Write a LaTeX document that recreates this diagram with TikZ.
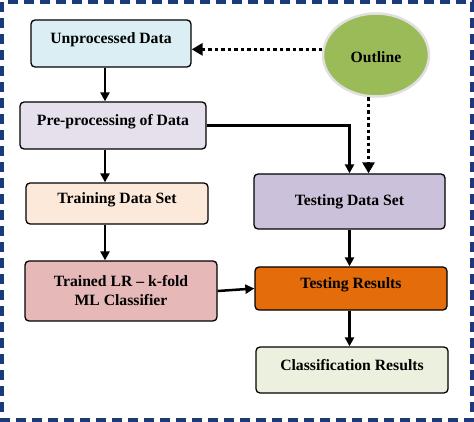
\documentclass[tikz,border=0pt]{standalone}
\usepackage{fontspec}
\setmainfont{Liberation Serif}
\usetikzlibrary{arrows.meta,shapes.geometric}

\definecolor{frameblue}{HTML}{1B3A7A}
\definecolor{upblue}{HTML}{DAEEF3}
\definecolor{prelilac}{HTML}{E5E0EC}
\definecolor{trainpeach}{HTML}{FDE9D9}
\definecolor{testlilac}{HTML}{CCC1DA}
\definecolor{trainedrose}{HTML}{E6B9B8}
\definecolor{resorange}{HTML}{E46C0A}
\definecolor{clsgreen}{HTML}{EBF1DE}
\definecolor{outlinegreen}{HTML}{9BBB59}

\begin{document}
\begin{tikzpicture}[x=1pt, y=-1pt,
    box/.style={draw, line width=1.3pt, rounded corners=4pt, align=center, inner sep=0pt,
        font=\bfseries\fontsize{15.7}{19}\selectfont, text height=8pt, text depth=8pt},
    arr/.style={line width=2.5pt, -{Triangle[length=9pt,width=9pt]}},
    dotarr/.style={line width=3.5pt, dash pattern=on 3.5pt off 3pt, -{Triangle[length=11pt,width=12pt]}}]
    \useasboundingbox (0,0) rectangle (474,422);
    % dashed frame
    \draw[frameblue, line width=4.5pt, dash pattern=on 10pt off 6pt] (2,2) rectangle (472,420);

    % left column
    \node[box, fill=upblue, minimum width=160pt, minimum height=47pt] (up) at (111,43.5) {Unprocessed Data};
    \node[box, fill=prelilac, minimum width=186pt, minimum height=47pt] (pre) at (113,125.5) {Pre-processing of Data};
    \node[box, fill=trainpeach, minimum width=182pt, minimum height=41pt] (train) at (117,203.5) {Training Data Set};
    \node[box, fill=trainedrose, minimum width=192pt, minimum height=60pt, text height=, text depth=] (trained) at (121,291) {Trained LR -- k-fold\\ML Classifier};

    % right column
    \node[ellipse, draw=black!12, line width=2.5pt, fill=outlinegreen, minimum width=106pt, minimum height=83pt,
        font=\bfseries\fontsize{15.7}{19}\selectfont, text height=16pt, text depth=0pt] (outline) at (376,55) {Outline};
    \node[box, fill=testlilac, minimum width=191pt, minimum height=55pt, text height=, text depth=] (test) at (349.5,201.5) {Testing Data Set};
    \node[box, fill=resorange, minimum width=192pt, minimum height=43pt] (results) at (351,288.5) {Testing Results};
    \node[box, fill=clsgreen, minimum width=192pt, minimum height=46pt] (cls) at (352,370) {Classification Results};

    \coordinate (lc) at (105,0);

    % arrows
    \draw[arr] (up.south -| lc) -- (pre.north -| lc);
    \draw[arr] (pre.south -| lc) -- (train.north -| lc);
    \draw[arr] (train.south -| lc) -- (trained.north -| lc);
    \draw[arr] (pre.east) -| (test.north);
    \draw[arr] (trained.east) -- (results.west);
    \draw[arr] (test.south) -- (results.north -| test.south);
    \draw[arr] (results.south -| test.south) -- (cls.north -| test.south);
    \draw[dotarr] (outline.174) -- (outline.174 -| up.east);
    \draw[dotarr] (outline.260) -- (outline.260 |- test.north);
\end{tikzpicture}
\end{document}
